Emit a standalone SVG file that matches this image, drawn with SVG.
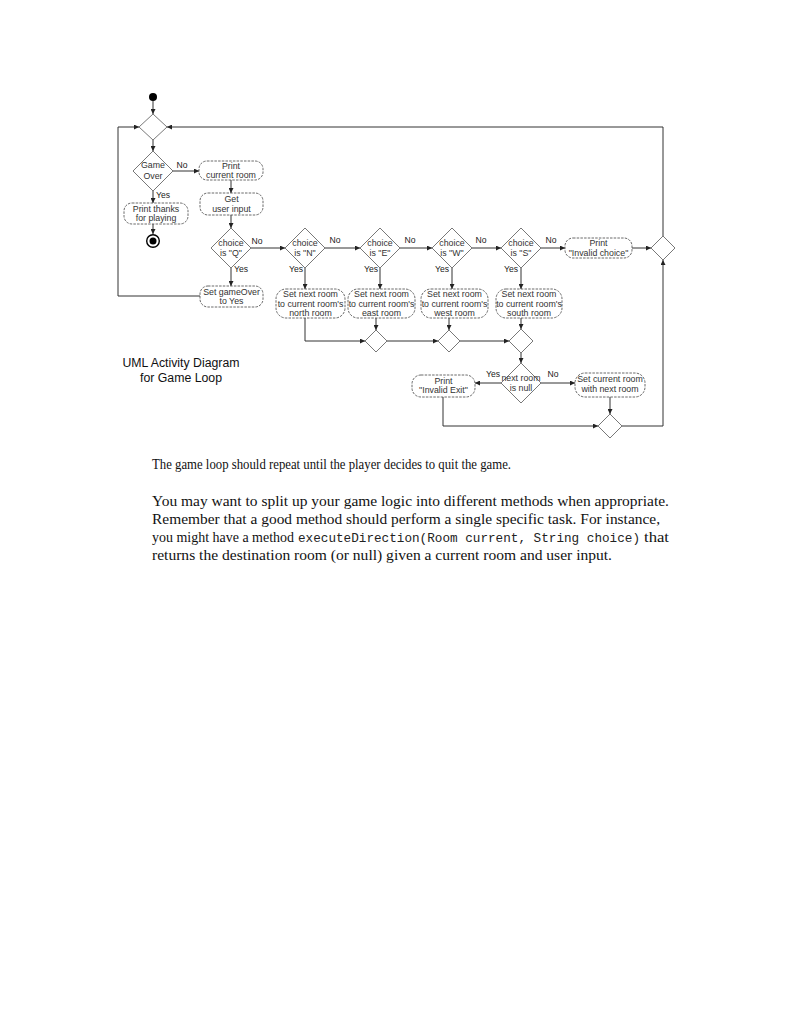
<svg xmlns="http://www.w3.org/2000/svg" width="791" height="1024" viewBox="0 0 791 1024">
<defs>
<marker id="arr" viewBox="0 0 6 6" refX="6" refY="3" markerWidth="5" markerHeight="5" markerUnits="userSpaceOnUse" orient="auto">
<path d="M0,0 L6,3 L0,6 Z" fill="#222"/>
</marker>
</defs>
<style>
.bg{fill:#fff}
.act{fill:#fff;stroke:#444;stroke-width:0.8;stroke-dasharray:2.5 1.2}
.dia{fill:#fff;stroke:#555;stroke-width:0.8}
.t{font-family:"Liberation Sans",Arial,sans-serif;font-size:8.8px;fill:#333;text-anchor:middle}
.lbl{font-family:"Liberation Sans",Arial,sans-serif;font-size:8.6px;fill:#222;text-anchor:middle}
.ttl{font-family:"Liberation Sans",Arial,sans-serif;font-size:12.3px;fill:#111;text-anchor:middle}
.p{font-family:"Liberation Serif","Times New Roman",serif;font-size:14.8px;fill:#111}
.m{font-family:"Liberation Mono","Courier New",monospace;font-size:12.8px;fill:#222}
.c{fill:none;stroke:#333;stroke-width:1}
</style>
<rect class="bg" x="0" y="0" width="791" height="1024"/>

<g id="connectors">
<line class="c" x1="153" y1="101" x2="153" y2="114" marker-end="url(#arr)"/>
<line class="c" x1="153" y1="140" x2="153" y2="151" marker-end="url(#arr)"/>
<line class="c" x1="173" y1="171" x2="199" y2="171" marker-end="url(#arr)"/>
<line class="c" x1="231" y1="180" x2="231" y2="193" marker-end="url(#arr)"/>
<line class="c" x1="231" y1="215" x2="231" y2="228" marker-end="url(#arr)"/>
<line class="c" x1="153" y1="191" x2="153" y2="203" marker-end="url(#arr)"/>
<line class="c" x1="153" y1="224" x2="153" y2="234" marker-end="url(#arr)"/>
<line class="c" x1="251" y1="248" x2="285" y2="248" marker-end="url(#arr)"/>
<line class="c" x1="231" y1="268" x2="231" y2="286" marker-end="url(#arr)"/>
<polyline class="c" points="200,296 118,296 118,127 139,127" marker-end="url(#arr)"/>
<line class="c" x1="325" y1="248" x2="360" y2="248" marker-end="url(#arr)"/>
<line class="c" x1="400" y1="248" x2="432" y2="248" marker-end="url(#arr)"/>
<line class="c" x1="472" y1="248" x2="501" y2="248" marker-end="url(#arr)"/>
<line class="c" x1="541" y1="248" x2="565" y2="248" marker-end="url(#arr)"/>
<line class="c" x1="632" y1="248" x2="651" y2="248" marker-end="url(#arr)"/>
<polyline class="c" points="663,236 663,127 167,127" marker-end="url(#arr)"/>
<line class="c" x1="305" y1="268" x2="305" y2="289" marker-end="url(#arr)"/>
<line class="c" x1="380" y1="268" x2="380" y2="289" marker-end="url(#arr)"/>
<line class="c" x1="452" y1="268" x2="452" y2="289" marker-end="url(#arr)"/>
<line class="c" x1="521" y1="268" x2="521" y2="289" marker-end="url(#arr)"/>
<polyline class="c" points="305,318 305,341 365,341" marker-end="url(#arr)"/>
<line class="c" x1="376" y1="318" x2="376" y2="330" marker-end="url(#arr)"/>
<line class="c" x1="387" y1="341" x2="438" y2="341" marker-end="url(#arr)"/>
<line class="c" x1="449" y1="318" x2="449" y2="330" marker-end="url(#arr)"/>
<line class="c" x1="460" y1="341" x2="509" y2="341" marker-end="url(#arr)"/>
<line class="c" x1="521" y1="318" x2="521" y2="329" marker-end="url(#arr)"/>
<line class="c" x1="521" y1="353" x2="521" y2="363" marker-end="url(#arr)"/>
<line class="c" x1="501" y1="383" x2="475" y2="383" marker-end="url(#arr)"/>
<line class="c" x1="541" y1="383" x2="575" y2="383" marker-end="url(#arr)"/>
<line class="c" x1="610" y1="397" x2="610" y2="414" marker-end="url(#arr)"/>
<polyline class="c" points="443,397 443,426 598,426" marker-end="url(#arr)"/>
<polyline class="c" points="622,426 663,426 663,260" marker-end="url(#arr)"/>
</g>

<g id="labels">
<text class="lbl" x="182" y="168">No</text>
<text class="lbl" x="163" y="198">Yes</text>
<text class="lbl" x="257" y="244">No</text>
<text class="lbl" x="241" y="272">Yes</text>
<text class="lbl" x="335" y="243">No</text>
<text class="lbl" x="410" y="243">No</text>
<text class="lbl" x="481" y="243">No</text>
<text class="lbl" x="551" y="243">No</text>
<text class="lbl" x="296" y="272">Yes</text>
<text class="lbl" x="371" y="272">Yes</text>
<text class="lbl" x="442" y="272">Yes</text>
<text class="lbl" x="511" y="272">Yes</text>
<text class="lbl" x="493" y="377">Yes</text>
<text class="lbl" x="553" y="377">No</text>
</g>

<g id="start"><circle cx="153" cy="97" r="4" fill="#000"/></g>
<g id="merge-top"><polygon class="dia" points="153,114 167,127 153,140 139,127"/></g>
<g id="game-over"><polygon class="dia" points="153,151 173,171 153,191 133,171"/>
<text class="t" x="153" y="168">Game</text><text class="t" x="153" y="178.5">Over</text></g>
<g id="print-room"><rect class="act" x="199" y="161" width="64" height="19" rx="8"/>
<text class="t" x="231" y="169">Print</text><text class="t" x="231" y="178">current room</text></g>
<g id="get-input"><rect class="act" x="200" y="193" width="63" height="22" rx="8"/>
<text class="t" x="231.5" y="201.5">Get</text><text class="t" x="231.5" y="211.5">user input</text></g>
<g id="print-thanks"><rect class="act" x="124" y="203" width="64" height="21" rx="8"/>
<text class="t" x="156" y="211.5">Print thanks</text><text class="t" x="156" y="221">for playing</text></g>
<g id="end"><circle cx="153" cy="241" r="6.3" fill="#fff" stroke="#000" stroke-width="1.4"/><circle cx="153" cy="241" r="3.5" fill="#000"/></g>
<g id="choice-q"><polygon class="dia" points="231,228 251,248 231,268 211,248"/>
<text class="t" x="231" y="246">choice</text><text class="t" x="231" y="256">is "Q"</text></g>
<g id="set-gameover"><rect class="act" x="200" y="286" width="63" height="21" rx="8"/>
<text class="t" x="231.5" y="294.5">Set gameOver</text><text class="t" x="231.5" y="304">to Yes</text></g>
<g id="choice-n"><polygon class="dia" points="305,228 325,248 305,268 285,248"/>
<text class="t" x="305" y="246">choice</text><text class="t" x="305" y="256">is "N"</text></g>
<g id="choice-e"><polygon class="dia" points="380,228 400,248 380,268 360,248"/>
<text class="t" x="380" y="246">choice</text><text class="t" x="380" y="256">is "E"</text></g>
<g id="choice-w"><polygon class="dia" points="452,228 472,248 452,268 432,248"/>
<text class="t" x="452" y="246">choice</text><text class="t" x="452" y="256">is "W"</text></g>
<g id="choice-s"><polygon class="dia" points="521,228 541,248 521,268 501,248"/>
<text class="t" x="521" y="246">choice</text><text class="t" x="521" y="256">is "S"</text></g>
<g id="print-invalid-choice"><rect class="act" x="565" y="238" width="67" height="20" rx="8"/>
<text class="t" x="598.5" y="246">Print</text><text class="t" x="598.5" y="255.5">"Invalid choice"</text></g>
<g id="merge-right"><polygon class="dia" points="663,236 675,248 663,260 651,248"/></g>
<g id="set-north"><rect class="act" x="276" y="289" width="69" height="29" rx="10"/>
<text class="t" x="310.5" y="297">Set next room</text><text class="t" x="310.5" y="306.5">to current room's</text><text class="t" x="310.5" y="316">north room</text></g>
<g id="set-east"><rect class="act" x="348" y="289" width="67" height="29" rx="10"/>
<text class="t" x="381.5" y="297">Set next room</text><text class="t" x="381.5" y="306.5">to current room's</text><text class="t" x="381.5" y="316">east room</text></g>
<g id="set-west"><rect class="act" x="421" y="289" width="67" height="29" rx="10"/>
<text class="t" x="454.5" y="297">Set next room</text><text class="t" x="454.5" y="306.5">to current room's</text><text class="t" x="454.5" y="316">west room</text></g>
<g id="set-south"><rect class="act" x="496" y="289" width="66" height="29" rx="10"/>
<text class="t" x="529" y="297">Set next room</text><text class="t" x="529" y="306.5">to current room's</text><text class="t" x="529" y="316">south room</text></g>
<g id="merge-1"><polygon class="dia" points="376,330 387,341 376,352 365,341"/></g>
<g id="merge-2"><polygon class="dia" points="449,330 460,341 449,352 438,341"/></g>
<g id="merge-3"><polygon class="dia" points="521,329 533,341 521,353 509,341"/></g>
<g id="next-null"><polygon class="dia" points="521,363 541,383 521,403 501,383"/>
<text class="t" x="521" y="381">next room</text><text class="t" x="521" y="391">is null</text></g>
<g id="print-invalid-exit"><rect class="act" x="412" y="375" width="63" height="22" rx="9"/>
<text class="t" x="443.5" y="383.5">Print</text><text class="t" x="443.5" y="393">"Invalid Exit"</text></g>
<g id="set-current"><rect class="act" x="575" y="373" width="70" height="24" rx="10"/>
<text class="t" x="610" y="382">Set current room</text><text class="t" x="610" y="392">with next room</text></g>
<g id="merge-final"><polygon class="dia" points="610,414 622,426 610,438 598,426"/></g>

<g id="title">
<text class="ttl" x="181" y="367">UML Activity Diagram</text>
<text class="ttl" x="181" y="382">for Game Loop</text>
</g>

<g id="paragraph">
<text class="p" x="152" y="469" textLength="359" lengthAdjust="spacingAndGlyphs">The game loop should repeat until the player decides to quit the game.</text>
<text class="p" x="152" y="506" textLength="517" lengthAdjust="spacingAndGlyphs">You may want to split up your game logic into different methods when appropriate.</text>
<text class="p" x="152" y="524" textLength="508" lengthAdjust="spacingAndGlyphs">Remember that a good method should perform a single specific task. For instance,</text>
<text class="p" x="152" y="542" textLength="142" lengthAdjust="spacingAndGlyphs">you might have a method</text>
<text class="m" x="298" y="542" textLength="342" lengthAdjust="spacingAndGlyphs">executeDirection(Room current, String choice)</text>
<text class="p" x="644" y="542" textLength="25" lengthAdjust="spacingAndGlyphs">that</text>
<text class="p" x="152" y="560" textLength="460" lengthAdjust="spacingAndGlyphs">returns the destination room (or null) given a current room and user input.</text>
</g>
</svg>
